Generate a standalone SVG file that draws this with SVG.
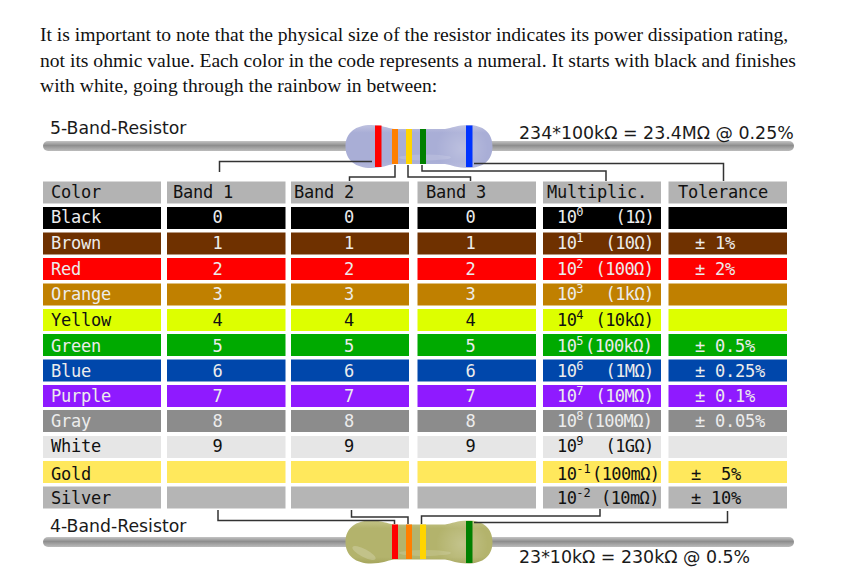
<svg xmlns="http://www.w3.org/2000/svg" width="858" height="582" viewBox="0 0 858 582">
<style>
.p{font:19.6px "Liberation Serif",serif;fill:#111}
.l{font:17.3px "DejaVu Sans",sans-serif;fill:#1a1a1a}
.m{font:17px "DejaVu Sans Mono",monospace;letter-spacing:-.23px;fill:#ececec;white-space:pre;transform:translateY(.7px)}
.v{letter-spacing:-.6px}
.d{fill:#111}
.c{text-anchor:middle}
.s{font-size:12px;letter-spacing:0}
.cn{fill:none;stroke:#333;stroke-width:1.5}
</style>
<defs>
<linearGradient id="lead" x1="0" y1="0" x2="0" y2="1"><stop offset="0" stop-color="#c4c4c4"/><stop offset=".45" stop-color="#8e8e8e"/><stop offset="1" stop-color="#bcbcbc"/></linearGradient>
<linearGradient id="b5" x1="0" y1="0" x2="0" y2="1"><stop offset="0" stop-color="#bfc2e0"/><stop offset=".18" stop-color="#a9aed6"/><stop offset=".85" stop-color="#a9aed6"/><stop offset="1" stop-color="#b4b8dc"/></linearGradient>
<linearGradient id="b4" x1="0" y1="0" x2="0" y2="1"><stop offset="0" stop-color="#c4c488"/><stop offset=".18" stop-color="#b3b36c"/><stop offset=".85" stop-color="#b3b36c"/><stop offset="1" stop-color="#a5a55c"/></linearGradient>
<radialGradient id="hl" gradientUnits="userSpaceOnUse" cx="462" cy="2" r="26"><stop offset="0" stop-color="#fff" stop-opacity=".22"/><stop offset="1" stop-color="#fff" stop-opacity="0"/></radialGradient>
<path id="body" d="M345.500 0C345.500-14 356-21.500 371-21.500C382-21.500 387-18.500 394-17.500H445C452-18.500 457-21.500 468-21.500C483-21.500 492.500-14 492.500 0C492.500 14 483 21.500 468 21.500C457 21.500 452 18.500 445 17.500H394C387 18.500 382 21.500 371 21.500C356 21.500 345.500 14 345.500 0Z"/>
<g id="shine"><use href="#body" fill="url(#hl)"/><ellipse cx="425" cy="11" rx="26" ry="3" fill="#fff" opacity=".14"/></g>
</defs>
<text class="p" x="40" y="41">It is important to note that the physical size of the resistor indicates its power dissipation rating,</text>
<text class="p" x="40" y="67">not its ohmic value. Each color in the code represents a numeral. It starts with black and finishes</text>
<text class="p" x="40" y="92">with white, going through the rainbow in between:</text>

<g id="resistor5">
<rect x="43" y="141" width="751" height="10" rx="5" fill="url(#lead)"/>
<use href="#body" transform="translate(0 146.500)" fill="url(#b5)"/>
<use href="#shine" transform="translate(0 146.500)"/>
<rect x="375" y="125.500" width="6.500" height="41.500" fill="#f00"/>
<rect x="392" y="129" width="6" height="35" fill="#ff7f00"/>
<rect x="406" y="129" width="6" height="35" fill="#ffd500"/>
<rect x="420" y="129" width="6" height="35" fill="#008000"/>
<rect x="466" y="125.500" width="6.500" height="41.500" fill="#03f"/>
<text class="l" x="50" y="133.700">5-Band-Resistor</text>
<text class="l" x="519" y="139" style="font-size:17.4px">234*100kΩ = 23.4MΩ @ 0.25%</text>
</g>

<g id="resistor4">
<rect x="43" y="537" width="751" height="10" rx="5" fill="url(#lead)"/>
<use href="#body" transform="translate(0 542)" fill="url(#b4)"/>
<use href="#shine" transform="translate(0 542)"/>
<ellipse cx="364" cy="553" rx="13" ry="4" transform="rotate(28 364 553)" fill="#fff" opacity=".2"/>
<rect x="392" y="524.500" width="6" height="34.500" fill="#f00"/>
<rect x="406" y="524.500" width="6" height="34.500" fill="#ff7f00"/>
<rect x="420" y="524.500" width="6" height="34.500" fill="#ffd500"/>
<rect x="466" y="521" width="6.500" height="42" fill="#008000"/>
<text class="l" x="50" y="531.800">4-Band-Resistor</text>
<text class="l" x="519" y="563" style="font-size:17.4px">23*10kΩ = 230kΩ @ 0.5%</text>
</g>

<g id="connectors">
<path class="cn" d="M219.500 172V161.500H372"/>
<path class="cn" d="M349.500 181V177H395V165"/>
<path class="cn" d="M408 165V177H470.500V181"/>
<path class="cn" d="M422 165V171H606V181"/>
<path class="cn" d="M474 163.500H723.500V181"/>
<path class="cn" d="M218 510V520.500H394.500V524"/>
<path class="cn" d="M351.500 510V517H408V524"/>
<path class="cn" d="M421.500 524V516H600V509"/>
<path class="cn" d="M474 522.500H727.500V511"/>
</g>

<g id="row-header" fill="#b3b3b3">
<rect x="43" y="181.500" width="118" height="22"/><rect x="167" y="181.500" width="118.500" height="22"/><rect x="291" y="181.500" width="118" height="22"/><rect x="417.500" y="181.500" width="118.500" height="22"/><rect x="543" y="181.500" width="118" height="22"/><rect x="668.500" y="181.500" width="118.500" height="22"/>
<text class="m d" x="51" y="197">Color</text><text class="m d" x="173" y="197">Band 1</text><text class="m d" x="294" y="197">Band 2</text><text class="m d" x="426" y="197">Band 3</text><text class="m d" x="547" y="197">Multiplic.</text><text class="m d" x="678" y="197">Tolerance</text>
</g>
<g id="row-black" fill="#000">
<rect x="43" y="207" width="118" height="22"/><rect x="167" y="207" width="118.500" height="22"/><rect x="291" y="207" width="118" height="22"/><rect x="417.500" y="207" width="118.500" height="22"/><rect x="543" y="207" width="118" height="22"/><rect x="668.500" y="207" width="118.500" height="22"/>
<text class="m" x="51" y="222">Black</text><text class="m c" x="217.500" y="222">0</text><text class="m c" x="349" y="222">0</text><text class="m c" x="470.500" y="222">0</text>
<text class="m v" x="557" y="222">10<tspan class="s" dy="-6.500">0</tspan></text><text class="m v" x="615.500" y="222">(1Ω)</text>
</g>
<g id="row-brown" fill="#6f3100">
<rect x="43" y="232.500" width="118" height="22"/><rect x="167" y="232.500" width="118.500" height="22"/><rect x="291" y="232.500" width="118" height="22"/><rect x="417.500" y="232.500" width="118.500" height="22"/><rect x="543" y="232.500" width="118" height="22"/><rect x="668.500" y="232.500" width="118.500" height="22"/>
<text class="m" x="51" y="248">Brown</text><text class="m c" x="217.500" y="248">1</text><text class="m c" x="349" y="248">1</text><text class="m c" x="470.500" y="248">1</text>
<text class="m v" x="557" y="248">10<tspan class="s" dy="-6.500">1</tspan></text><text class="m v" x="605.500" y="248">(10Ω)</text><text class="m" x="695" y="248">± 1%</text>
</g>
<g id="row-red" fill="#f00">
<rect x="43" y="258" width="118" height="22"/><rect x="167" y="258" width="118.500" height="22"/><rect x="291" y="258" width="118" height="22"/><rect x="417.500" y="258" width="118.500" height="22"/><rect x="543" y="258" width="118" height="22"/><rect x="668.500" y="258" width="118.500" height="22"/>
<text class="m" x="51" y="274">Red</text><text class="m c" x="217.500" y="274">2</text><text class="m c" x="349" y="274">2</text><text class="m c" x="470.500" y="274">2</text>
<text class="m v" x="557" y="274">10<tspan class="s" dy="-6.500">2</tspan></text><text class="m v" x="595.500" y="274">(100Ω)</text><text class="m" x="695" y="274">± 2%</text>
</g>
<g id="row-orange" fill="#c08000">
<rect x="43" y="283.500" width="118" height="22"/><rect x="167" y="283.500" width="118.500" height="22"/><rect x="291" y="283.500" width="118" height="22"/><rect x="417.500" y="283.500" width="118.500" height="22"/><rect x="543" y="283.500" width="118" height="22"/><rect x="668.500" y="283.500" width="118.500" height="22"/>
<text class="m" x="51" y="299">Orange</text><text class="m c" x="217.500" y="299">3</text><text class="m c" x="349" y="299">3</text><text class="m c" x="470.500" y="299">3</text>
<text class="m v" x="557" y="299">10<tspan class="s" dy="-6.500">3</tspan></text><text class="m v" x="605.500" y="299">(1kΩ)</text>
</g>
<g id="row-yellow" fill="#df0">
<rect x="43" y="309" width="118" height="22"/><rect x="167" y="309" width="118.500" height="22"/><rect x="291" y="309" width="118" height="22"/><rect x="417.500" y="309" width="118.500" height="22"/><rect x="543" y="309" width="118" height="22"/><rect x="668.500" y="309" width="118.500" height="22"/>
<text class="m d" x="51" y="325">Yellow</text><text class="m d c" x="217.500" y="325">4</text><text class="m d c" x="349" y="325">4</text><text class="m d c" x="470.500" y="325">4</text>
<text class="m d v" x="557" y="325">10<tspan class="s" dy="-6.500">4</tspan></text><text class="m d v" x="595.500" y="325">(10kΩ)</text>
</g>
<g id="row-green" fill="#0a0">
<rect x="43" y="334" width="118" height="22"/><rect x="167" y="334" width="118.500" height="22"/><rect x="291" y="334" width="118" height="22"/><rect x="417.500" y="334" width="118.500" height="22"/><rect x="543" y="334" width="118" height="22"/><rect x="668.500" y="334" width="118.500" height="22"/>
<text class="m" x="51" y="351">Green</text><text class="m c" x="217.500" y="351">5</text><text class="m c" x="349" y="351">5</text><text class="m c" x="470.500" y="351">5</text>
<text class="m v" x="557" y="351">10<tspan class="s" dy="-6.500">5</tspan></text><text class="m v" x="585" y="351">(100kΩ)</text><text class="m" x="695" y="351">± 0.5%</text>
</g>
<g id="row-blue" fill="#0047ab">
<rect x="43" y="359.500" width="118" height="22"/><rect x="167" y="359.500" width="118.500" height="22"/><rect x="291" y="359.500" width="118" height="22"/><rect x="417.500" y="359.500" width="118.500" height="22"/><rect x="543" y="359.500" width="118" height="22"/><rect x="668.500" y="359.500" width="118.500" height="22"/>
<text class="m" x="51" y="376">Blue</text><text class="m c" x="217.500" y="376">6</text><text class="m c" x="349" y="376">6</text><text class="m c" x="470.500" y="376">6</text>
<text class="m v" x="557" y="376">10<tspan class="s" dy="-6.500">6</tspan></text><text class="m v" x="605.500" y="376">(1MΩ)</text><text class="m" x="695" y="376">± 0.25%</text>
</g>
<g id="row-purple" fill="#8f1aff">
<rect x="43" y="385" width="118" height="22"/><rect x="167" y="385" width="118.500" height="22"/><rect x="291" y="385" width="118" height="22"/><rect x="417.500" y="385" width="118.500" height="22"/><rect x="543" y="385" width="118" height="22"/><rect x="668.500" y="385" width="118.500" height="22"/>
<text class="m" x="51" y="401">Purple</text><text class="m c" x="217.500" y="401">7</text><text class="m c" x="349" y="401">7</text><text class="m c" x="470.500" y="401">7</text>
<text class="m v" x="557" y="401">10<tspan class="s" dy="-6.500">7</tspan></text><text class="m v" x="595.500" y="401">(10MΩ)</text><text class="m" x="695" y="401">± 0.1%</text>
</g>
<g id="row-gray" fill="#8c8c8c">
<rect x="43" y="410" width="118" height="22"/><rect x="167" y="410" width="118.500" height="22"/><rect x="291" y="410" width="118" height="22"/><rect x="417.500" y="410" width="118.500" height="22"/><rect x="543" y="410" width="118" height="22"/><rect x="668.500" y="410" width="118.500" height="22"/>
<text class="m" x="51" y="426">Gray</text><text class="m c" x="217.500" y="426">8</text><text class="m c" x="349" y="426">8</text><text class="m c" x="470.500" y="426">8</text>
<text class="m v" x="557" y="426">10<tspan class="s" dy="-6.500">8</tspan></text><text class="m v" x="585" y="426">(100MΩ)</text><text class="m" x="695" y="426">± 0.05%</text>
</g>
<g id="row-white" fill="#e6e6e6">
<rect x="43" y="436" width="118" height="22"/><rect x="167" y="436" width="118.500" height="22"/><rect x="291" y="436" width="118" height="22"/><rect x="417.500" y="436" width="118.500" height="22"/><rect x="543" y="436" width="118" height="22"/><rect x="668.500" y="436" width="118.500" height="22"/>
<text class="m d" x="51" y="451">White</text><text class="m d c" x="217.500" y="451">9</text><text class="m d c" x="349" y="451">9</text><text class="m d c" x="470.500" y="451">9</text>
<text class="m d v" x="557" y="451">10<tspan class="s" dy="-6.500">9</tspan></text><text class="m d v" x="605.500" y="451">(1GΩ)</text>
</g>
<g id="row-gold" fill="#ffe85c">
<rect x="43" y="461" width="118" height="22"/><rect x="167" y="461" width="118.500" height="22"/><rect x="291" y="461" width="118" height="22"/><rect x="417.500" y="461" width="118.500" height="22"/><rect x="543" y="461" width="118" height="22"/><rect x="668.500" y="461" width="118.500" height="22"/>
<text class="m d" x="51" y="479">Gold</text>
<text class="m d v" x="557" y="479">10<tspan class="s" dy="-6.500">-1</tspan></text><text class="m d v" x="592" y="479">(100mΩ)</text><text class="m d" x="691" y="479">±  5%</text>
</g>
<g id="row-silver" fill="#b5b5b5">
<rect x="43" y="486.500" width="118" height="22"/><rect x="167" y="486.500" width="118.500" height="22"/><rect x="291" y="486.500" width="118" height="22"/><rect x="417.500" y="486.500" width="118.500" height="22"/><rect x="543" y="486.500" width="118" height="22"/><rect x="668.500" y="486.500" width="118.500" height="22"/>
<text class="m d" x="51" y="503">Silver</text>
<text class="m d v" x="557" y="503">10<tspan class="s" dy="-6.500">-2</tspan></text><text class="m d v" x="601" y="503">(10mΩ)</text><text class="m d" x="691" y="503">± 10%</text>
</g>
</svg>
